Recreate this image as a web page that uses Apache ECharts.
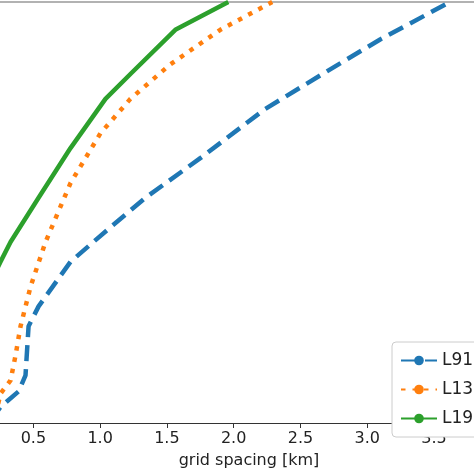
<!DOCTYPE html><html><head><meta charset="utf-8"><script src="https://cdn.jsdelivr.net/npm/echarts@6/dist/echarts.min.js"></script>
<style>html,body{margin:0;padding:0;background:#fff}#c{width:474px;height:474px}</style></head><body><div id="c"></div><script>
const seriesNames=['L91','L137','L190'];
const xTicks=[0.5,1.0,1.5,2.0,2.5,3.0,3.5];
const blueX=[0.179,0.254,0.389,0.441,0.464,0.539,0.778,1.077,1.339,1.750,2.236,2.723,3.097,3.620];
const blueY=[0.007,0.038,0.075,0.113,0.230,0.277,0.383,0.465,0.535,0.629,0.746,0.840,0.911,1.0];
const orangeX=[0.217,0.254,0.329,0.366,0.404,0.479,0.591,0.778,1.002,1.227,1.526,1.900,2.289];
const orangeY=[0.019,0.070,0.101,0.160,0.230,0.324,0.430,0.570,0.688,0.770,0.852,0.934,1.0];
const greenX=[0.217,0.254,0.329,0.539,0.778,1.040,1.227,1.563,1.960];
const greenY=[0.359,0.383,0.430,0.535,0.653,0.770,0.829,0.934,1.0];
const zip=(a,b)=>a.map((v,i)=>[v,b[i]]);
const ch=echarts.init(document.getElementById('c'));
const ff='DejaVu Sans';
ch.setOption({animation:false,
grid:{left:0,right:0,top:2,bottom:46,containLabel:false},
xAxis:[{type:'value',min:0.25,max:3.8,splitLine:{show:false},
 axisLine:{lineStyle:{color:'#333',width:1.2}},axisTick:{length:5,lineStyle:{color:'#333'},customValues:xTicks},
 axisLabel:{color:'#222',fontSize:16,fontFamily:ff,margin:8,customValues:xTicks,formatter:v=>v.toFixed(1)},
 name:'grid spacing [km]',nameLocation:'middle',nameGap:30,nameTextStyle:{fontSize:16,fontFamily:ff,color:'#222',padding:[0,0,0,24]}},
 {type:'value',position:'top',min:0.25,max:3.8,axisLine:{show:true,lineStyle:{color:'#999',width:1.5}},axisTick:{show:false},axisLabel:{show:false},splitLine:{show:false}}],
yAxis:{type:'value',min:0,max:1,show:false},
legend:{left:392,top:342,orient:'vertical',itemWidth:36,itemHeight:12,itemGap:12,padding:[10,8],
 borderColor:'#ccc',borderWidth:1,borderRadius:4,backgroundColor:'#fff',
 textStyle:{fontSize:17,fontFamily:ff,color:'#222'},data:seriesNames},
series:[
{name:seriesNames[0],type:'line',data:zip(blueX,blueY),showSymbol:false,symbol:'none',color:'#1f77b4',lineStyle:{width:4.5,type:[16,8]}},
{name:seriesNames[1],type:'line',data:zip(orangeX,orangeY),showSymbol:false,symbol:'none',color:'#ff7f0e',lineStyle:{width:4.5,type:[4.5,7]}},
{name:seriesNames[2],type:'line',data:zip(greenX,greenY),showSymbol:false,symbol:'none',color:'#2ca02c',lineStyle:{width:4.5}}]});
</script></body></html>
